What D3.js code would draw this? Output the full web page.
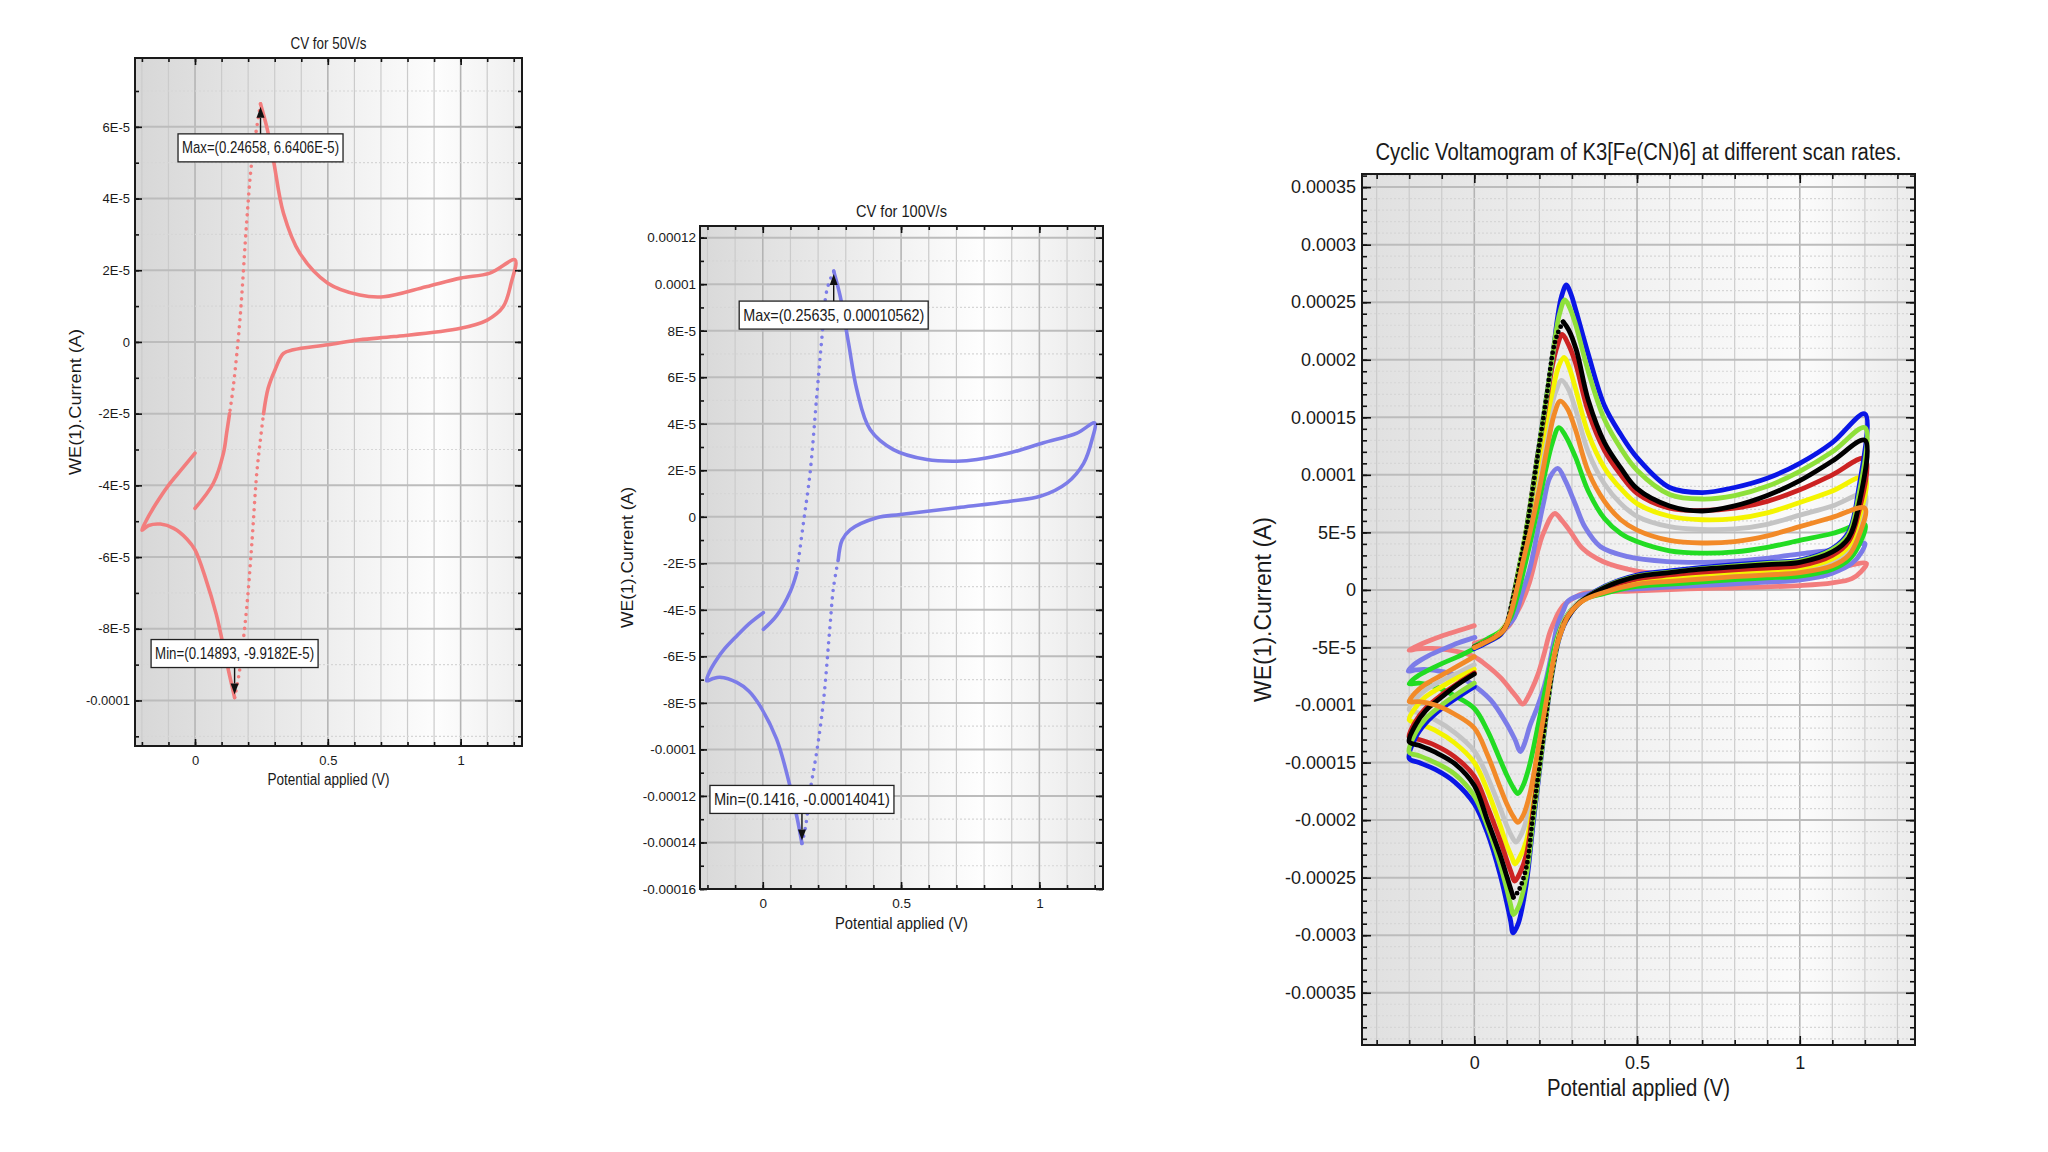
<!DOCTYPE html>
<html>
<head>
<meta charset="utf-8">
<script src="https://cdn.jsdelivr.net/npm/d3@7"></script>
<style>
	body { margin: 0; background: #fff; }
	text { font-family: 'Liberation Sans Narrow', 'Arial Narrow', 'Liberation Sans', Arial, sans-serif; fill: #1a1a1a; }
</style>
</head>
<body>
<svg id="chart" width="2048" height="1152"></svg>
<script>
// potential (V), current (uA), listed in sweep order
const scanRates = [50, 100, 150, 200, 250, 300, 350, 400, 450, 500]
const rateColors = ['#f27d7d', '#7c7ce8', '#22dc22', '#f28a28', '#c4c4c4', '#f4f400', '#cc2222', '#000000', '#8ee03a', '#0a16e6']

const cv50 = [
	[0, -31], [-0.05, -35.5], [-0.1, -40], [-0.15, -45.5], [-0.185, -50], [-0.2, -52.5],
	[-0.175, -51.2], [-0.13, -50.8], [-0.08, -52], [-0.03, -55], [0, -58], [0.04, -66], [0.08, -76], [0.11, -86], [0.13, -93], [0.149, -99.2],
	[0.165, -93], [0.176, -86.8], [0.195, -73.8], [0.213, -57.1], [0.232, -37], [0.245, -28], [0.258, -20], [0.275, -13], [0.301, -7.8],
	[0.333, -3.2], [0.37, -2.2], [0.5, -0.8], [0.62, 0.6], [0.75, 1.5], [1.0, 3.8], [1.1, 6.1], [1.16, 9.8], [1.19, 16.4], [1.205, 22.9],
	[1.11, 19.2], [1.0, 17.8], [0.87, 15.4], [0.71, 12.6], [0.62, 13.1], [0.5, 16.4], [0.395, 24.7], [0.333, 35.9], [0.295, 50.8], [0.27, 60], [0.2466, 66.4],
	[0.213, 49.8], [0.195, 34], [0.169, 6.1], [0.144, -12.5], [0.13, -20], [0.119, -25.4], [0.107, -31], [0.069, -39.4], [0, -46.4]
]
const cv100 = [
	[0.002, -41.2], [-0.05, -46], [-0.094, -51.2], [-0.14, -57], [-0.166, -61.2], [-0.19, -66], [-0.203, -70.5],
	[-0.18, -69.5], [-0.154, -69], [-0.094, -71.2], [-0.05, -75], [-0.01, -81.3], [0.05, -95.6], [0.098, -115.6], [0.125, -130], [0.1416, -140.4],
	[0.155, -133], [0.171, -118], [0.195, -101], [0.219, -79.7], [0.243, -47], [0.255, -31], [0.273, -18.3], [0.287, -10], [0.316, -5.6],
	[0.412, -0.4], [0.497, 1.0], [0.702, 3.9], [0.895, 6.7], [1.003, 8.8], [1.1, 14.6], [1.16, 23], [1.19, 33], [1.2, 40.3],
	[1.136, 36], [1.015, 31.8], [0.895, 27.5], [0.774, 24.6], [0.702, 23.9], [0.593, 24.6], [0.472, 28.9], [0.388, 37.5], [0.34, 54.6], [0.31, 74.7], [0.28, 94.7], [0.2564, 105.6],
	[0.232, 97.6], [0.213, 76], [0.195, 51.7], [0.171, 18.9], [0.147, -2.6], [0.123, -24], [0.1, -32], [0.05, -42.5], [0.002, -48.4]
]
const cv150 = [
	[0, -51], [-0.05, -58], [-0.1, -64], [-0.15, -71], [-0.18, -76], [-0.2, -81.5],
	[-0.17, -81], [-0.12, -84], [-0.06, -92], [0, -103], [0.04, -122], [0.08, -148], [0.1, -161], [0.12, -172], [0.134, -177],
	[0.15, -170], [0.17, -152], [0.19, -126], [0.21, -98], [0.23, -70], [0.25, -46], [0.27, -30], [0.29, -20], [0.33, -9], [0.4, -3], [0.5, 3],
	[0.6, 5], [0.7, 7], [0.8, 9], [0.9, 10.5], [1.0, 12], [1.1, 18], [1.15, 26], [1.18, 38], [1.2, 57],
	[1.1, 49], [1.0, 43], [0.9, 37], [0.8, 33], [0.7, 32], [0.6, 34], [0.5, 42], [0.45, 49], [0.4, 62], [0.35, 86], [0.31, 116], [0.28, 134], [0.26, 141],
	[0.24, 128], [0.22, 105], [0.2, 78], [0.175, 45], [0.15, 15], [0.13, -8], [0.11, -25], [0.08, -36], [0.05, -41], [0.02, -46], [0, -49]
]
const cv200 = [
	[0, -58], [-0.05, -66], [-0.1, -74], [-0.15, -82], [-0.18, -89], [-0.2, -97],
	[-0.17, -97], [-0.12, -100], [-0.06, -108], [0, -120], [0.04, -143], [0.08, -172], [0.1, -186], [0.12, -197], [0.134, -202],
	[0.15, -196], [0.17, -178], [0.19, -148], [0.21, -115], [0.23, -82], [0.25, -52], [0.27, -34], [0.29, -22], [0.33, -10], [0.4, -2], [0.5, 5],
	[0.6, 7.5], [0.7, 9.5], [0.8, 11.5], [0.9, 13], [1.0, 15], [1.1, 21], [1.15, 30], [1.18, 46], [1.2, 71],
	[1.1, 63], [1.0, 55], [0.9, 47], [0.8, 42], [0.7, 40.8], [0.6, 43], [0.5, 52], [0.45, 61], [0.4, 77], [0.35, 103], [0.31, 140], [0.285, 158], [0.264, 164],
	[0.245, 152], [0.225, 125], [0.2, 88], [0.175, 55], [0.15, 25], [0.13, 0], [0.11, -22], [0.09, -35], [0.058, -42], [0.03, -46], [0, -50]
]
const cv250 = [
	[0, -65], [-0.05, -72], [-0.1, -79], [-0.15, -87], [-0.18, -95], [-0.2, -104],
	[-0.17, -107], [-0.12, -113], [-0.06, -124], [0, -140], [0.04, -162], [0.08, -190], [0.1, -205], [0.115, -214], [0.128, -219],
	[0.145, -212], [0.165, -195], [0.185, -168], [0.2, -145], [0.22, -105], [0.24, -66], [0.26, -39], [0.28, -25], [0.32, -11], [0.4, -1], [0.5, 6.5],
	[0.6, 9.5], [0.7, 12], [0.8, 14], [0.9, 15.5], [1.0, 17], [1.1, 24], [1.15, 34], [1.18, 53], [1.2, 83],
	[1.1, 73], [1.0, 65], [0.9, 57], [0.8, 53], [0.7, 52.5], [0.6, 55], [0.5, 64], [0.45, 75], [0.4, 92], [0.35, 120], [0.31, 158], [0.288, 175], [0.268, 182],
	[0.25, 172], [0.23, 150], [0.21, 120], [0.19, 92], [0.16, 48], [0.14, 20], [0.12, -6], [0.1, -28], [0.08, -37], [0.058, -42], [0.03, -46], [0, -50]
]
const cv300 = [
	[0, -69], [-0.05, -76], [-0.1, -84], [-0.15, -93], [-0.18, -102], [-0.2, -113],
	[-0.17, -116], [-0.12, -122], [-0.06, -133], [0, -150], [0.04, -174], [0.08, -205], [0.1, -222], [0.115, -232], [0.125, -238],
	[0.14, -232], [0.16, -218], [0.18, -188], [0.2, -150], [0.22, -108], [0.24, -68], [0.26, -40], [0.28, -26], [0.32, -12], [0.4, 0], [0.5, 8],
	[0.6, 11], [0.7, 13.5], [0.8, 15.5], [0.9, 17], [1.0, 19], [1.1, 27], [1.15, 38], [1.18, 60], [1.2, 98],
	[1.1, 86], [1.0, 76], [0.9, 67], [0.8, 62], [0.7, 61], [0.6, 64], [0.5, 75], [0.45, 88], [0.4, 106], [0.35, 136], [0.31, 176], [0.292, 193], [0.276, 202],
	[0.26, 195], [0.24, 172], [0.22, 145], [0.19, 100], [0.16, 50], [0.14, 21], [0.12, -6], [0.1, -29], [0.08, -37], [0.058, -42], [0.03, -46], [0, -50]
]
const cv350 = [
	[0, -72], [-0.05, -81], [-0.1, -91], [-0.15, -103], [-0.18, -114], [-0.2, -128],
	[-0.17, -130], [-0.12, -135], [-0.06, -145], [0, -162], [0.04, -188], [0.08, -218], [0.1, -235], [0.114, -246], [0.124, -253],
	[0.14, -246], [0.16, -230], [0.18, -193], [0.2, -152], [0.22, -109], [0.24, -69], [0.26, -41], [0.28, -26], [0.32, -12], [0.4, 1], [0.5, 9.5],
	[0.6, 13], [0.7, 15.5], [0.8, 17.5], [0.9, 19], [1.0, 21], [1.1, 30], [1.15, 42], [1.18, 66], [1.2, 114],
	[1.1, 100], [1.0, 87], [0.9, 77], [0.8, 71], [0.7, 69], [0.6, 71], [0.5, 84], [0.45, 100], [0.4, 121], [0.35, 155], [0.31, 198], [0.288, 214], [0.27, 222],
	[0.255, 212], [0.24, 195], [0.22, 160], [0.19, 108], [0.16, 52], [0.14, 22], [0.12, -6], [0.1, -30], [0.08, -38], [0.058, -42], [0.03, -46], [0, -50]
]
const cv400 = [
	[0, -73], [-0.05, -82], [-0.1, -93], [-0.15, -105], [-0.18, -117], [-0.2, -132],
	[-0.17, -135], [-0.12, -141], [-0.06, -151], [0, -170], [0.04, -200], [0.08, -231], [0.1, -249], [0.112, -260], [0.12, -267],
	[0.135, -262], [0.16, -241], [0.18, -197], [0.2, -154], [0.22, -110], [0.24, -70], [0.26, -42], [0.28, -27], [0.32, -12], [0.4, 2], [0.5, 11.5],
	[0.6, 15], [0.7, 18], [0.8, 20], [0.9, 22], [1.0, 24], [1.1, 33], [1.15, 45], [1.18, 72], [1.2, 130],
	[1.1, 112], [1.0, 95], [0.9, 82], [0.8, 73], [0.7, 68.6], [0.6, 73], [0.5, 88], [0.45, 106], [0.4, 128], [0.35, 165], [0.314, 208], [0.29, 226], [0.273, 233],
	[0.255, 222], [0.242, 208], [0.222, 168], [0.191, 110], [0.16, 52], [0.14, 22], [0.12, -6], [0.1, -30], [0.08, -38], [0.058, -42], [0.03, -46], [0, -49.5]
]
const cv450 = [
	[0, -81], [-0.05, -90], [-0.1, -100], [-0.15, -112], [-0.18, -124], [-0.2, -141],
	[-0.17, -144], [-0.12, -150], [-0.06, -160], [0, -179], [0.04, -205], [0.08, -239], [0.1, -260], [0.112, -274], [0.12, -282],
	[0.135, -276], [0.16, -248], [0.18, -201], [0.2, -156], [0.22, -111], [0.24, -70], [0.26, -42], [0.28, -27], [0.32, -12], [0.4, 2.5], [0.5, 12],
	[0.6, 15.5], [0.7, 18.5], [0.8, 21], [0.9, 23], [1.0, 25], [1.1, 35], [1.15, 48], [1.18, 80], [1.2, 141],
	[1.1, 120], [1.0, 103], [0.9, 90], [0.8, 82], [0.7, 79], [0.6, 83], [0.5, 104], [0.45, 123], [0.4, 148], [0.35, 190], [0.31, 232], [0.292, 246], [0.278, 252],
	[0.262, 240], [0.25, 222], [0.242, 206], [0.222, 168], [0.191, 110], [0.16, 53], [0.14, 23], [0.12, -6], [0.1, -30], [0.08, -38], [0.058, -42], [0.03, -46], [0, -50]
]
const cv500 = [
	[0, -84], [-0.05, -93], [-0.1, -103], [-0.15, -116], [-0.18, -128], [-0.2, -146.5],
	[-0.17, -150], [-0.12, -156], [-0.06, -167], [0, -186], [0.04, -211], [0.08, -248], [0.1, -272], [0.112, -288], [0.119, -298],
	[0.135, -290], [0.16, -255], [0.18, -205], [0.2, -158], [0.22, -112], [0.24, -71], [0.26, -43], [0.28, -28], [0.32, -12], [0.4, 3], [0.5, 13],
	[0.6, 16.5], [0.7, 19.5], [0.8, 22], [0.9, 24], [1.0, 26], [1.1, 36], [1.15, 50], [1.18, 86], [1.2, 153],
	[1.1, 128], [1.0, 110], [0.9, 97], [0.8, 89], [0.7, 84.6], [0.6, 89], [0.5, 115], [0.45, 135], [0.4, 160], [0.35, 205], [0.31, 245], [0.297, 257], [0.283, 265],
	[0.268, 255], [0.255, 235], [0.243, 208], [0.222, 168], [0.191, 110], [0.16, 52], [0.14, 22], [0.12, -6], [0.1, -30], [0.08, -39], [0.058, -43], [0.03, -47], [0, -51]
]
const allCurves = [cv50, cv100, cv150, cv200, cv250, cv300, cv350, cv400, cv450, cv500]

// peak readouts shown in the boxes (V, A)
const peak50 = { max: [0.24658, 6.6406e-5], min: [0.14893, -9.9182e-5] }
const peak100 = { max: [0.25635, 0.00010562], min: [0.1416, -0.00014041] }
const peakLabels50 = ['Max=(0.24658, 6.6406E-5)', 'Min=(0.14893, -9.9182E-5)']
const peakLabels100 = ['Max=(0.25635, 0.00010562)', 'Min=(0.1416, -0.00014041)']

// tick values
const xTicks = [0, 0.5, 1]
const yTicks50 = [-1e-4, -8e-5, -6e-5, -4e-5, -2e-5, 0, 2e-5, 4e-5, 6e-5]
const yTicks100 = [-1.6e-4, -1.4e-4, -1.2e-4, -1e-4, -8e-5, -6e-5, -4e-5, -2e-5, 0, 2e-5, 4e-5, 6e-5, 8e-5, 1e-4, 1.2e-4]
const yTicksAll = [-3.5e-4, -3e-4, -2.5e-4, -2e-4, -1.5e-4, -1e-4, -5e-5, 0, 5e-5, 1e-4, 1.5e-4, 2e-4, 2.5e-4, 3e-4, 3.5e-4]

const titles = ['CV for 50V/s', 'CV for 100V/s', 'Cyclic Voltamogram of K3[Fe(CN)6] at different scan rates.']
const xTitle = 'Potential applied (V)'
const yTitle = 'WE(1).Current (A)'

const svg = d3.select('#chart')
const defs = svg.append('defs')

const fmtCurrent = v => {
	if (v === 0) return '0'
	if (Math.abs(v) < 1e-4 - 1e-12) return Math.round(v * 1e5) + 'E-5'
	return String(+v.toPrecision(3))
}

function addGradient(id, stops) {
	const gr = defs.append('linearGradient').attr('id', id).attr('x1', 0).attr('x2', 1).attr('y1', 0).attr('y2', 0)
	stops.forEach(([o, c]) => gr.append('stop').attr('offset', o).attr('stop-color', c))
}
addGradient('bg1', [[0, '#d7d7d7'], [0.45, '#ececec'], [0.78, '#fdfdfd'], [1, '#efefef']])
addGradient('bg2', [[0, '#d9d9d9'], [0.4, '#ededed'], [0.7, '#fefefe'], [1, '#e9e9e9']])
addGradient('bg3', [[0, '#e0e0e0'], [0.5, '#f2f2f2'], [0.8, '#fbfbfb'], [1, '#ebebeb']])

// steep jump right after each extreme is plotted as sparse dots
function splitRuns(pts, x, y, thr) {
	const n = pts.length
	const dotted = new Array(n).fill(false)
	const ys = pts.map(d => d[1])
	const starts = [ys.indexOf(d3.min(ys)), ys.indexOf(d3.max(ys))]
	starts.forEach(s => {
		for (let i = s + 1; i < n; i++) {
			const dx = Math.abs(x(pts[i][0]) - x(pts[i - 1][0]))
			const dy = Math.abs(y(pts[i][1] * 1e-6) - y(pts[i - 1][1] * 1e-6))
			if (i > s + 1 && dy < thr * dx) break
			dotted[i] = true
		}
	})
	const runs = []
	let cur = null
	for (let i = 1; i < n; i++) {
		if (!cur || cur.dots !== dotted[i]) {
			if (cur) runs.push(cur)
			cur = { dots: dotted[i], pts: [pts[i - 1]] }
		}
		cur.pts.push(pts[i])
	}
	runs.push(cur)
	return runs
}

function drawTrace(g, pts, x, y, color, width, dotted) {
	const line = d3
		.line()
		.x(d => x(d[0]))
		.y(d => y(d[1] * 1e-6))
		.curve(d3.curveCatmullRom.alpha(0.5))
	const runs = dotted ? splitRuns(pts, x, y, dotted.thr) : [{ dots: false, pts }]
	runs.forEach(r => {
		g.append('path')
			.attr('d', line(r.pts))
			.attr('fill', 'none')
			.attr('stroke', color)
			.attr('stroke-width', width)
			.attr('stroke-linecap', 'round')
			.attr('stroke-linejoin', 'round')
			.attr('stroke-dasharray', r.dots ? `0 ${dotted.gap}` : null)
	})
}

function drawPanel(cfg) {
	const x = d3.scaleLinear().domain(cfg.xDomain).range([cfg.left, cfg.right])
	const y = d3.scaleLinear().domain(cfg.yDomain).range([cfg.bottom, cfg.top])
	const g = svg.append('g')
	const w = cfg.right - cfg.left
	const h = cfg.bottom - cfg.top

	g.append('rect').attr('x', cfg.left).attr('y', cfg.top).attr('width', w).attr('height', h).attr('fill', `url(#${cfg.bg})`)

	const xMinor = d3.range(Math.ceil(cfg.xDomain[0] * 10 - 1e-9), Math.floor(cfg.xDomain[1] * 10 + 1e-9) + 1).map(k => k / 10)
	const yMinor = d3.range(Math.ceil(cfg.yDomain[0] / 1e-5 - 1e-9), Math.floor(cfg.yDomain[1] / 1e-5 + 1e-9) + 1).map(k => k * 1e-5)
	const isMajor = (ticks, v) => ticks.some(t => Math.abs(t - v) < 1e-9)

	const grid = g.append('g')
	grid.selectAll('.gv')
		.data(xMinor)
		.join('line')
		.attr('x1', d => x(d)).attr('x2', d => x(d))
		.attr('y1', cfg.top).attr('y2', cfg.bottom)
		.attr('stroke', d => (isMajor(xTicks, d) ? '#b4b4b4' : '#cbcbcb'))
		.attr('stroke-width', d => (isMajor(xTicks, d) ? 1.6 : 1.2))
	grid.selectAll('.gh')
		.data(yMinor)
		.join('line')
		.attr('x1', cfg.left).attr('x2', cfg.right)
		.attr('y1', d => y(d)).attr('y2', d => y(d))
		.attr('stroke', d => (isMajor(cfg.yTicks, d) ? '#bcbcbc' : '#d6d6d6'))
		.attr('stroke-width', d => (isMajor(cfg.yTicks, d) ? 2 : 1.2))
		.attr('stroke-dasharray', d => (isMajor(cfg.yTicks, d) ? null : '2 2'))

	const curves = g.append('g')
	cfg.traces.forEach(t => drawTrace(curves, t.pts, x, y, t.color, cfg.lineWidth, t.dotted))

	// axes, ticks pointing inward on all four sides
	const styleAxis = sel => {
		sel.select('.domain').remove()
		sel.selectAll('.tick line').attr('stroke', '#111').attr('stroke-width', 1.6)
		sel.attr('font-size', null).attr('font-family', null).style('font-size', cfg.tickFont + 'px')
		sel.selectAll('.tick text').attr('fill', '#1a1a1a')
	}
	const axes = g.append('g')
	axes.append('g').attr('transform', `translate(${cfg.left},0)`)
		.call(d3.axisLeft(y).tickValues(cfg.yTicks).tickFormat(fmtCurrent).tickSize(-cfg.major).tickPadding(cfg.yPad)).call(styleAxis)
	axes.append('g').attr('transform', `translate(${cfg.left},0)`)
		.call(d3.axisLeft(y).tickValues(yMinor).tickFormat('').tickSize(-cfg.minor)).call(styleAxis)
	axes.append('g').attr('transform', `translate(${cfg.right},0)`)
		.call(d3.axisRight(y).tickValues(cfg.yTicks).tickFormat('').tickSize(-cfg.major)).call(styleAxis)
	axes.append('g').attr('transform', `translate(${cfg.right},0)`)
		.call(d3.axisRight(y).tickValues(yMinor).tickFormat('').tickSize(-cfg.minor)).call(styleAxis)
	axes.append('g').attr('transform', `translate(0,${cfg.bottom})`)
		.call(d3.axisBottom(x).tickValues(xTicks).tickFormat(d3.format('')).tickSize(-cfg.major).tickPadding(cfg.xPad)).call(styleAxis)
	axes.append('g').attr('transform', `translate(0,${cfg.bottom})`)
		.call(d3.axisBottom(x).tickValues(xMinor).tickFormat('').tickSize(-cfg.minor)).call(styleAxis)
	axes.append('g').attr('transform', `translate(0,${cfg.top})`)
		.call(d3.axisTop(x).tickValues(xTicks).tickFormat('').tickSize(-cfg.major)).call(styleAxis)
	axes.append('g').attr('transform', `translate(0,${cfg.top})`)
		.call(d3.axisTop(x).tickValues(xMinor).tickFormat('').tickSize(-cfg.minor)).call(styleAxis)

	g.append('rect').attr('x', cfg.left).attr('y', cfg.top).attr('width', w).attr('height', h)
		.attr('fill', 'none').attr('stroke', '#1a1a1a').attr('stroke-width', 2)

	// titles
	const cx = (cfg.left + cfg.right) / 2
	const cy = (cfg.top + cfg.bottom) / 2
	const label = (txt, size, len) =>
		g.append('text').text(txt).attr('text-anchor', 'middle').style('font-size', size + 'px')
			.attr('textLength', len).attr('lengthAdjust', 'spacingAndGlyphs')
	label(cfg.title, cfg.titleFont, cfg.titleLen).attr('x', cx).attr('y', cfg.titleY)
	label(xTitle, cfg.labelFont, cfg.xLabelLen).attr('x', cx).attr('y', cfg.xLabelY)
	label(yTitle, cfg.labelFont, cfg.yLabelLen).attr('dominant-baseline', 'central')
		.attr('transform', `translate(${cfg.yLabelX},${cy}) rotate(-90)`)

	// peak readouts
	if (cfg.peaks) {
		const pk = cfg.peaks
		;[
			[pk.values.max, pk.labels[0], 1, pk.textLen[0]],
			[pk.values.min, pk.labels[1], -1, pk.textLen[1]]
		].forEach(([pt, txt, dir, len]) => {
			const px = x(pt[0])
			const py = y(pt[1])
			const bh = 28
			const gap = 30
			const boxTop = dir > 0 ? py + gap : py - gap - bh
			const bw = len + 8
			const bx = px - bw / 2
			const ann = g.append('g')
			ann.append('rect').attr('x', bx).attr('y', boxTop).attr('width', bw).attr('height', bh)
				.attr('fill', '#fff').attr('stroke', '#222').attr('stroke-width', 1.3)
			ann.append('text').text(txt).style('font-size', '17px').attr('fill', '#111')
				.attr('textLength', len).attr('lengthAdjust', 'spacingAndGlyphs')
				.attr('x', bx + 4).attr('y', boxTop + bh / 2).attr('dominant-baseline', 'central')
			const y0 = dir > 0 ? boxTop : boxTop + bh
			const tip = py + (dir > 0 ? 3 : -3)
			const head = dir > 0 ? tip + 11 : tip - 11
			ann.append('line').attr('x1', px).attr('x2', px).attr('y1', y0).attr('y2', head).attr('stroke', '#111').attr('stroke-width', 1.4)
			ann.append('path').attr('d', `M${px},${tip} L${px - 4},${head} L${px + 4},${head} Z`).attr('fill', '#111')
		})
	}
}

drawPanel({
	left: 135, top: 58, right: 522, bottom: 746,
	xDomain: [-0.226, 1.231], yDomain: [-1.127e-4, 7.92e-5], yTicks: yTicks50, bg: 'bg1',
	traces: [{ pts: cv50, color: rateColors[0], dotted: { thr: 7, gap: 7 } }],
	lineWidth: 3.6, major: 7, minor: 4, tickFont: 13, yPad: 5, xPad: 10,
	title: titles[0], titleFont: 16, titleLen: 76, titleY: 49,
	labelFont: 16, xLabelLen: 122, xLabelY: 785, yLabelX: 75, yLabelLen: 146,
	peaks: { values: peak50, labels: peakLabels50, textLen: [157, 159] }
})

drawPanel({
	left: 700, top: 226, right: 1103, bottom: 889,
	xDomain: [-0.227, 1.23], yDomain: [-1.6e-4, 1.25e-4], yTicks: yTicks100, bg: 'bg2',
	traces: [{ pts: cv100, color: rateColors[1], dotted: { thr: 5, gap: 7.5 } }],
	lineWidth: 3.6, major: 7, minor: 4, tickFont: 13.5, yPad: 4, xPad: 9,
	title: titles[1], titleFont: 16, titleLen: 91, titleY: 217,
	labelFont: 16, xLabelLen: 133, xLabelY: 929, yLabelX: 627, yLabelLen: 141,
	peaks: { values: peak100, labels: peakLabels100, textLen: [181, 176] }
})

// overlay order as stacked in the picture
const drawOrder = [0, 1, 2, 4, 5, 6, 9, 8, 7, 3]
drawPanel({
	left: 1362, top: 174, right: 1915, bottom: 1045,
	xDomain: [-0.345, 1.354], yDomain: [-3.954e-4, 3.614e-4], yTicks: yTicksAll, bg: 'bg3',
	traces: drawOrder.map(i => ({
		pts: allCurves[i],
		color: rateColors[i],
		dotted: scanRates[i] === 400 ? { thr: 2.5, gap: 5.5 } : null
	})),
	lineWidth: 4.8, major: 9, minor: 5, tickFont: 18, yPad: 6, xPad: 11,
	title: titles[2], titleFont: 23, titleLen: 526, titleY: 160,
	labelFont: 23, xLabelLen: 183, xLabelY: 1096, yLabelX: 1263, yLabelLen: 185
})
</script>
</body>
</html>
